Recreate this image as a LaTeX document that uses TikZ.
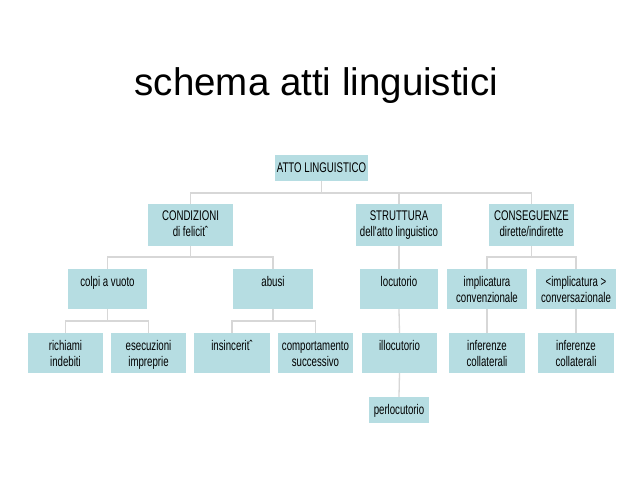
\documentclass[tikz,border=0pt]{standalone}
\usepackage{fontspec}
\setmainfont{Liberation Sans}
\newfontfamily\narrowfont{Liberation Sans}[FakeStretch=0.69]
\definecolor{boxfill}{RGB}{182,221,226}
\definecolor{linkgray}{RGB}{215,215,215}
\newcommand{\boxtext}[1]{{\narrowfont\fontsize{14}{15.8}\selectfont\begin{tabular}[t]{@{}c@{}}#1\end{tabular}}}
\begin{document}
\begin{tikzpicture}[x=1pt,y=-1pt,
  box/.style={draw=none,fill=boxfill,inner sep=0pt,rectangle},
  lbl/.style={anchor=base,inner sep=0pt},
  link/.style={draw=linkgray,line width=1.3pt}]
\useasboundingbox (0,0) rectangle (638,478);
\fill[white] (0,0) rectangle (638,478);
% title
\node[anchor=base,inner sep=0pt,font=\fontsize{38.5}{40}\selectfont] (title) at (316.5,95.5) {schema atti linguistici};
% boxes
\node[box,minimum width=93pt,minimum height=26pt] (atto) at (321.5,168) {};
\node[box,minimum width=85pt,minimum height=42pt] (cond) at (190.5,225) {};
\node[box,minimum width=86pt,minimum height=42pt] (strut) at (399,225) {};
\node[box,minimum width=85pt,minimum height=42pt] (cons) at (531.5,225) {};
\node[box,minimum width=79pt,minimum height=40pt] (colpi) at (107.5,289) {};
\node[box,minimum width=80pt,minimum height=40pt] (abusi) at (273,289) {};
\node[box,minimum width=78pt,minimum height=40pt] (loc) at (399,289) {};
\node[box,minimum width=80pt,minimum height=40pt] (implc) at (487,289) {};
\node[box,minimum width=80pt,minimum height=40pt] (implv) at (576,289) {};
\node[box,minimum width=75pt,minimum height=40pt] (rich) at (65.5,353) {};
\node[box,minimum width=75pt,minimum height=40pt] (esec) at (148.5,353) {};
\node[box,minimum width=76pt,minimum height=40pt] (insin) at (232,353) {};
\node[box,minimum width=75pt,minimum height=40pt] (comp) at (315.5,353) {};
\node[box,minimum width=75pt,minimum height=40pt] (illoc) at (399.5,353) {};
\node[box,minimum width=76pt,minimum height=40pt] (infa) at (487,353) {};
\node[box,minimum width=76pt,minimum height=40pt] (infb) at (576,353) {};
\node[box,minimum width=60pt,minimum height=26pt] (perl) at (399,410) {};
% connectors
\coordinate (bus1) at (0,193);
\coordinate (bus2) at (0,257);
\coordinate (bus3) at (0,321);
\draw[link] (atto.south) -- (atto.south |- bus1);
\draw[link] (cond.north) -- (cond.north |- bus1) -- (cons.north |- bus1) -- (cons.north);
\draw[link] (strut.north |- bus1) -- (strut.north);
\draw[link] (cond.south) -- (cond.south |- bus2);
\draw[link] (colpi.north) -- (colpi.north |- bus2) -- (abusi.north |- bus2) -- (abusi.north);
\draw[link] (strut.south) -- (loc.north);
\draw[link] (cons.south) -- (cons.south |- bus2);
\draw[link] (implc.north) -- (implc.north |- bus2) -- (implv.north |- bus2) -- (implv.north);
\draw[link] (colpi.south) -- (colpi.south |- bus3);
\draw[link] (rich.north) -- (rich.north |- bus3) -- (esec.north |- bus3) -- (esec.north);
\draw[link] (abusi.south) -- (abusi.south |- bus3);
\draw[link] (insin.north) -- (insin.north |- bus3) -- (comp.north |- bus3) -- (comp.north);
\draw[link] (loc.south) -- (illoc.north);
\draw[link] (implc.south) -- (infa.north);
\draw[link] (implv.south) -- (infb.north);
\draw[link] (illoc.south) -- (perl.north);
% labels
\node[lbl] (tatto) at ([yshift=-17.8pt]atto.north) {\boxtext{ATTO LINGUISTICO}};
\node[lbl] (tcond) at ([yshift=-17pt]cond.north) {\boxtext{CONDIZIONI\\di felicitˆ}};
\node[lbl] (tstrut) at ([yshift=-17pt]strut.north) {\boxtext{STRUTTURA\\dell'atto linguistico}};
\node[lbl] (tcons) at ([yshift=-17pt]cons.north) {\boxtext{CONSEGUENZE\\dirette/indirette}};
\node[lbl] (tcolpi) at ([yshift=-17.5pt]colpi.north) {\boxtext{colpi a vuoto}};
\node[lbl] (tabusi) at ([yshift=-17.5pt]abusi.north) {\boxtext{abusi}};
\node[lbl] (tloc) at ([yshift=-17.5pt]loc.north) {\boxtext{locutorio}};
\node[lbl] (timplc) at ([yshift=-17.5pt]implc.north) {\boxtext{implicatura\\convenzionale}};
\node[lbl] (timplv) at ([yshift=-17.5pt]implv.north) {\boxtext{<implicatura >\\conversazionale}};
\node[lbl] (trich) at ([yshift=-17.5pt]rich.north) {\boxtext{richiami\\indebiti}};
\node[lbl] (tesec) at ([yshift=-17.5pt]esec.north) {\boxtext{esecuzioni\\impreprie}};
\node[lbl] (tinsin) at ([yshift=-17.5pt]insin.north) {\boxtext{insinceritˆ}};
\node[lbl] (tcomp) at ([yshift=-17.5pt]comp.north) {\boxtext{comportamento\\successivo}};
\node[lbl] (tilloc) at ([yshift=-17.5pt]illoc.north) {\boxtext{illocutorio}};
\node[lbl] (tinfa) at ([yshift=-17.5pt]infa.north) {\boxtext{inferenze\\collaterali}};
\node[lbl] (tinfb) at ([yshift=-17.5pt]infb.north) {\boxtext{inferenze\\collaterali}};
\node[lbl] (tperl) at ([yshift=-17.8pt]perl.north) {\boxtext{perlocutorio}};
\end{tikzpicture}
\end{document}
